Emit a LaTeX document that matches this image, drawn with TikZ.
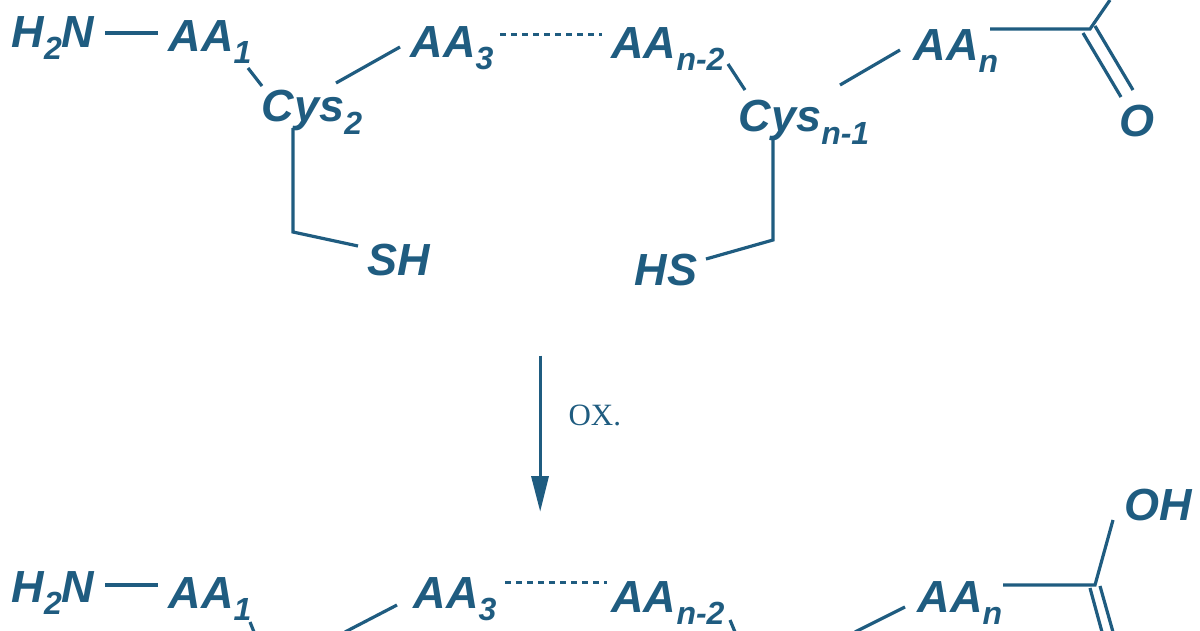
\documentclass[tikz,border=0pt]{standalone}
\usepackage{fontspec}
\setmainfont{Liberation Sans}
\newfontfamily\oxfont{Liberation Serif}
\definecolor{blu}{HTML}{1F5C80}
\newcommand{\sbs}[1]{\raisebox{-0.28em}{\fontsize{32}{32}\selectfont #1}}
\begin{document}
\begin{tikzpicture}[x=1pt,y=-1pt,
  lbl/.style={text=blu,font=\fontsize{45}{45}\selectfont\bfseries\itshape,inner sep=0pt,anchor=center,yshift=-5pt},
  bond/.style={draw=blu,line width=3.2pt},
  dbond/.style={draw=blu,line width=3pt,dash pattern=on 6pt off 5pt}]
\useasboundingbox (0,0) rectangle (1200,630);
% top
\node[lbl] (h2n) at (53,33) {H\sbs{2}N};
\node[lbl] (aa1) at (210,37) {AA\sbs{1}};
\node[lbl] (cys2) at (312,107) {Cys\sbs{2}};
\node[lbl] (aa3) at (452,43) {AA\sbs{3}};
\node[lbl] (aan2) at (668,44) {AA\sbs{n-2}};
\node[lbl] (cysn1) at (804,117) {Cys\sbs{n-1}};
\node[lbl] (aan) at (956,46) {AA\sbs{n}};
\node[lbl] (o) at (1137,116) {O};
\node[lbl] (sh) at (399,255) {SH};
\node[lbl] (hs) at (666,265) {HS};
\coordinate (c1) at (1090,29);
\coordinate (ct) at (1110,0);
\coordinate (s1) at (293,232);
\coordinate (s2) at (773,240);
\draw[bond] (105,33) -- (158,33);
\draw[bond] (248,68) -- (262,86);
\draw[bond] (336,83) -- (400,47);
\draw[dbond] (500,34) -- (602,34);
\draw[bond] (728,64) -- (745,90);
\draw[bond] (840,85) -- (900,50);
\draw[bond] (990,29) -- (c1) -- (ct);
\draw[bond] (1083,33) -- (1121,97);
\draw[bond] (1095,26) -- (1133,90);
\draw[bond] (293,128) -- (s1) -- (358,246);
\draw[bond] (773,140) -- (s2) -- (706,259);
% arrow
\node[inner sep=0pt] (top) at (540,355) {};
\node[inner sep=0pt] (bot) at (540,512) {};
\draw[draw=blu,line width=3pt] (top) -- (540,480);
\fill[blu] (531,476) -- (549,476) -- (bot) -- cycle;
\node[text=blu,font=\oxfont\fontsize{31}{31}\selectfont,anchor=west] (ox) at (565,415) {OX.};
% bottom
\node[lbl] (bh2n) at (53,588) {H\sbs{2}N};
\node[lbl] (baa1) at (210,594) {AA\sbs{1}};
\node[lbl] (baa3) at (455,594) {AA\sbs{3}};
\node[lbl] (baan2) at (668,598) {AA\sbs{n-2}};
\node[lbl] (baan) at (960,598) {AA\sbs{n}};
\node[lbl] (boh) at (1158,500) {OH};
\coordinate (bc) at (1095,585);
\draw[bond] (105,585) -- (158,585);
\draw[bond] (250,622) -- (254,632);
\draw[bond] (345,632) -- (397,605);
\draw[dbond] (505,582) -- (607,582);
\draw[bond] (730,620) -- (735,632);
\draw[bond] (855,632) -- (905,607);
\draw[bond] (1003,585) -- (bc) -- (1113,520);
\draw[bond] (1090,588) -- (1102,632);
\draw[bond] (1100,586) -- (1113,632);
\end{tikzpicture}
\end{document}
